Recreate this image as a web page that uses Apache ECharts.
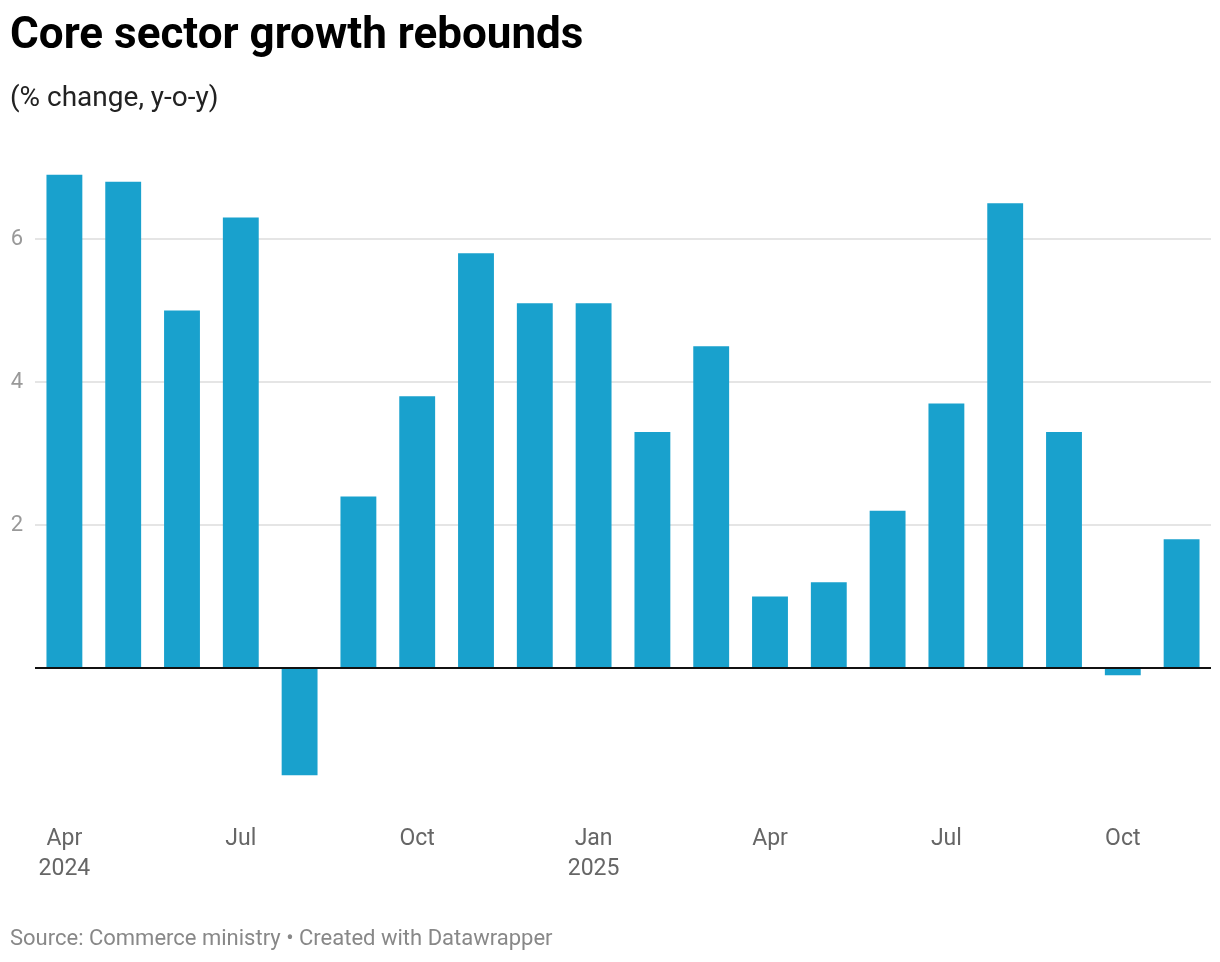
<!DOCTYPE html>
<html>
<head>
<meta charset="utf-8">
<script src="https://cdn.jsdelivr.net/npm/echarts@6/dist/echarts.min.js"></script>
<style>
  html, body { margin: 0; padding: 0; background: #fff; }
  #chart { width: 1220px; height: 962px; }
</style>
</head>
<body>
<div id="chart"></div>
<script>
// months Apr 2024 .. Nov 2025
var months = ['Apr 2024', 'May 2024', 'Jun 2024', 'Jul 2024', 'Aug 2024', 'Sep 2024', 'Oct 2024', 'Nov 2024', 'Dec 2024',
  'Jan 2025', 'Feb 2025', 'Mar 2025', 'Apr 2025', 'May 2025', 'Jun 2025', 'Jul 2025', 'Aug 2025', 'Sep 2025', 'Oct 2025', 'Nov 2025'];
var growth = [6.9, 6.8, 5.0, 6.3, -1.5, 2.4, 3.8, 5.8, 5.1, 5.1, 3.3, 4.5, 1.0, 1.2, 2.2, 3.7, 6.5, 3.3, -0.1, 1.8];
var tickLabels = ['Apr\n2024', '', '', 'Jul', '', '', 'Oct', '', '', 'Jan\n2025', '', '', 'Apr', '', '', 'Jul', '', '', 'Oct', ''];
var yTicks = [2, 4, 6];

var myChart = echarts.init(document.getElementById('chart'));

var option = {
  backgroundColor: '#fff',
  animation: false,
  title: [{
    text: 'Core sector growth rebounds',
    left: 10,
    top: 15,
    padding: 0,
    textStyle: { fontFamily: 'Roboto', fontWeight: 'bold', fontSize: 44, color: '#000' }
  }, {
    text: '(% change, y-o-y)',
    left: 10,
    top: 85,
    padding: 0,
    textStyle: { fontFamily: 'Roboto', fontWeight: 'normal', fontSize: 28, color: '#222' }
  }, {
    text: 'Source: Commerce ministry • Created with Datawrapper',
    left: 10,
    top: 928,
    padding: 0,
    textStyle: { fontFamily: 'Roboto', fontWeight: 'normal', fontSize: 22, color: '#888' }
  }],
  grid: {
    left: 35,
    right: 9,
    top: 167.5,
    bottom: 151
  },
  xAxis: {
    type: 'category',
    data: months,
    axisLine: { show: false },
    axisTick: { show: false },
    axisLabel: {
      interval: 0,
      margin: 13,
      fontFamily: 'Roboto',
      fontSize: 23,
      lineHeight: 30,
      color: '#666',
      formatter: function(value, index) {
        return tickLabels[index];
      }
    }
  },
  yAxis: {
    type: 'value',
    min: -2,
    max: 7,
    interval: 2,
    axisLine: { show: false },
    axisTick: { show: false },
    axisLabel: {
      margin: 12,
      align: 'right',
      fontFamily: 'Roboto',
      fontSize: 22,
      color: '#999',
      formatter: function(v) {
        return yTicks.indexOf(v) >= 0 ? String(v) : '';
      }
    },
    splitLine: {
      show: true,
      showMinLine: false,
      showMaxLine: false,
      lineStyle: { color: '#e5e5e5', width: 2 }
    }
  },
  series: [{
    type: 'bar',
    data: growth,
    barCategoryGap: '39%',
    itemStyle: { color: '#19a1cd' },
    markLine: {
      silent: true,
      symbol: ['none', 'none'],
      label: { show: false },
      lineStyle: { color: '#111', width: 2, type: 'solid' },
      data: [{ yAxis: 0 }]
    }
  }]
};
myChart.setOption(option);
</script>
</body>
</html>
